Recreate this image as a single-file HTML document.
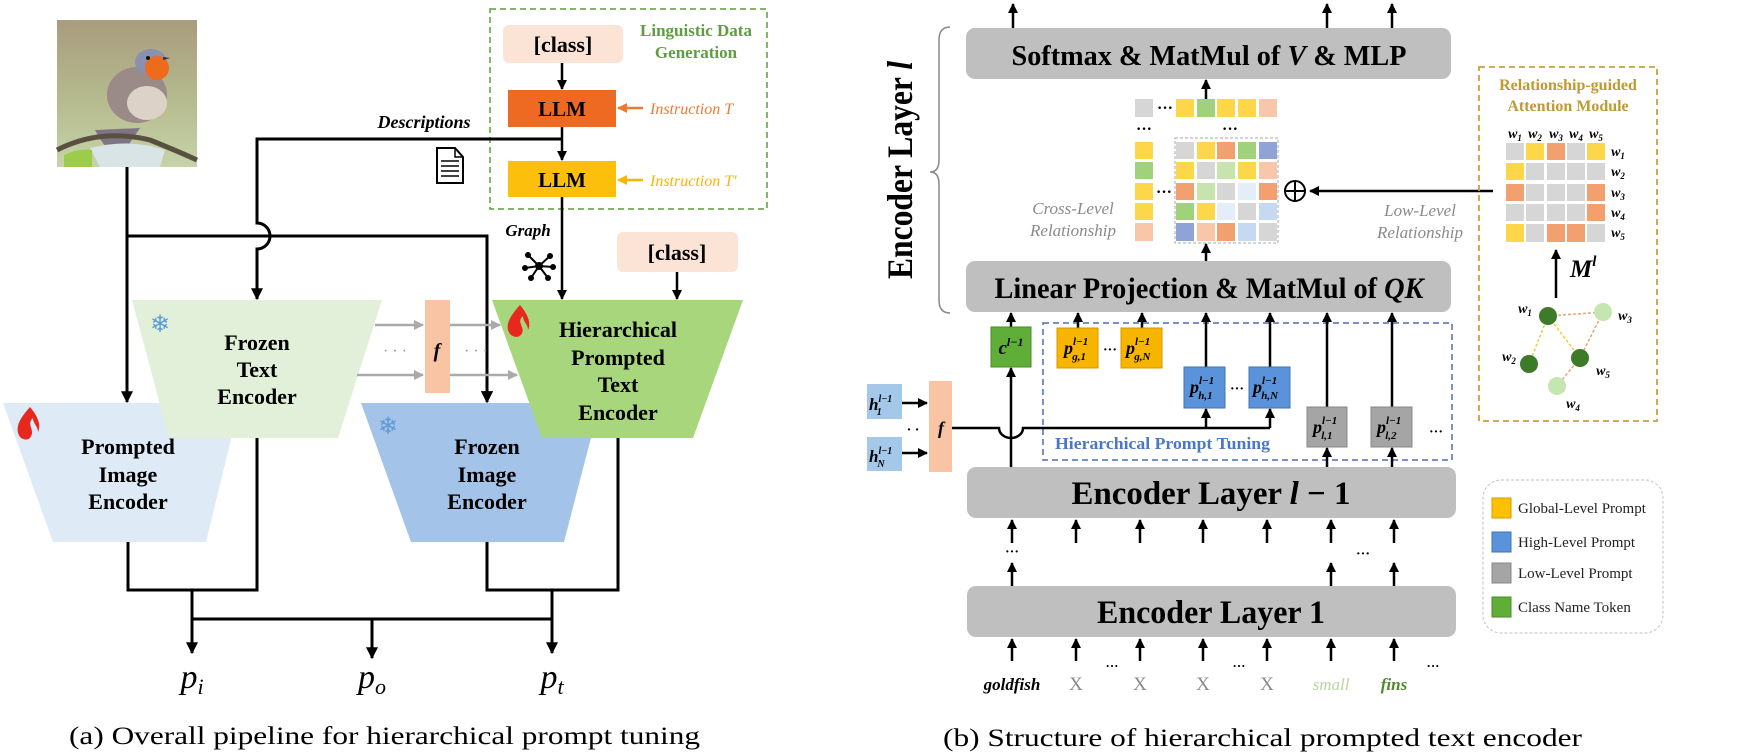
<!DOCTYPE html>
<html><head><meta charset="utf-8"><style>
html,body{margin:0;padding:0;background:#fff}
svg{display:block}
text{font-family:"Liberation Serif","DejaVu Serif",serif}
</style></head><body>
<svg width="1738" height="753" viewBox="0 0 1738 753" xmlns="http://www.w3.org/2000/svg">
<defs>
<marker id="ab" viewBox="0 0 10 10" refX="9" refY="5" markerWidth="4" markerHeight="4" orient="auto" markerUnits="strokeWidth"><path d="M0,0 L10,5 L0,10 z" fill="#000"/></marker>
<marker id="ag" viewBox="0 0 10 10" refX="9" refY="5" markerWidth="4" markerHeight="4" orient="auto" markerUnits="strokeWidth"><path d="M0,0 L10,5 L0,10 z" fill="#aaa"/></marker>
<marker id="ao" viewBox="0 0 10 10" refX="9" refY="5" markerWidth="4" markerHeight="4" orient="auto" markerUnits="strokeWidth"><path d="M0,0 L10,5 L0,10 z" fill="#ee7a30"/></marker>
<marker id="ay" viewBox="0 0 10 10" refX="9" refY="5" markerWidth="4" markerHeight="4" orient="auto" markerUnits="strokeWidth"><path d="M0,0 L10,5 L0,10 z" fill="#f8b600"/></marker>
<linearGradient id="bg" x1="0" y1="0" x2="0" y2="1"><stop offset="0" stop-color="#a89c7e"/><stop offset="0.5" stop-color="#b4b88c"/><stop offset="1" stop-color="#c6d3a8"/></linearGradient>
</defs>

<!-- ===== LEFT PANEL ===== -->
<!-- bird image -->
<rect x="57" y="20" width="140" height="147" fill="url(#bg)"/>
<path d="M95,130 Q110,160 125,150 L140,128 Z" fill="#7e7486"/>
<ellipse cx="137" cy="95" rx="30" ry="28" fill="#9a8a88"/>
<ellipse cx="147" cy="103" rx="20" ry="17" fill="#ddd2c8"/>
<ellipse cx="151" cy="62" rx="16" ry="13" fill="#8a90b0"/>
<ellipse cx="157" cy="68" rx="12" ry="12" fill="#ee6a1c"/>
<circle cx="148" cy="58" r="2" fill="#111"/>
<path d="M163,57 L170,58 L163,60 Z" fill="#333"/>
<path d="M57,150 Q100,128 150,140 Q175,150 197,160" stroke="#5a5040" stroke-width="5" fill="none"/>
<path d="M90,148 Q130,138 165,150 L160,167 L100,167 Z" fill="#d8e4e6"/>
<path d="M64,155 Q80,148 92,150 L92,167 L64,167 Z" fill="#9ccc4a"/>

<!-- Linguistic data generation dashed box -->
<rect x="490" y="9" width="277" height="200" fill="none" stroke="#5e9e3e" stroke-width="1.5" stroke-dasharray="6,4"/>
<rect x="503" y="25" width="120" height="38" rx="6" fill="#fbe3d6"/>
<text x="563" y="52" font-size="22" font-weight="bold" text-anchor="middle">[class]</text>
<text x="696" y="36" font-size="17" font-weight="bold" fill="#5e9e3e" text-anchor="middle">Linguistic Data</text>
<text x="696" y="58" font-size="17" font-weight="bold" fill="#5e9e3e" text-anchor="middle">Generation</text>
<line x1="562" y1="63" x2="562" y2="89" stroke="#000" stroke-width="2.5" marker-end="url(#ab)"/>
<rect x="508" y="90" width="108" height="37" fill="#ee6a22"/>
<text x="562" y="116" font-size="21" font-weight="bold" text-anchor="middle">LLM</text>
<line x1="643" y1="108" x2="618" y2="108" stroke="#ee7a30" stroke-width="2.5" marker-end="url(#ao)"/>
<text x="650" y="114" font-size="16" font-style="italic" fill="#ee7a30">Instruction T</text>
<rect x="508" y="161" width="108" height="36" fill="#fbbf0c"/>
<text x="562" y="187" font-size="21" font-weight="bold" text-anchor="middle">LLM</text>
<line x1="643" y1="180" x2="618" y2="180" stroke="#f8b600" stroke-width="2.5" marker-end="url(#ay)"/>
<text x="650" y="186" font-size="16" font-style="italic" fill="#f8b600">Instruction T'</text>
<line x1="562" y1="127" x2="562" y2="160" stroke="#000" stroke-width="2.5" marker-end="url(#ab)"/>
<!-- descriptions -->
<path d="M562,139 H257 V223 A13,13 0 0 1 257,249 V299" fill="none" stroke="#000" stroke-width="3" marker-end="url(#ab)"/>
<text x="424" y="128" font-size="18" font-weight="bold" font-style="italic" text-anchor="middle">Descriptions</text>
<!-- doc icon -->
<path d="M437,148 H455 L463,157 V183 H437 Z" fill="#fff" stroke="#000" stroke-width="2"/>
<path d="M455,148 V157 H463" fill="none" stroke="#000" stroke-width="1.5"/>
<g stroke="#000" stroke-width="1.5"><line x1="441" y1="161" x2="459" y2="161"/><line x1="441" y1="166" x2="459" y2="166"/><line x1="441" y1="171" x2="459" y2="171"/><line x1="441" y1="176" x2="459" y2="176"/></g>
<!-- graph -->
<line x1="562" y1="197" x2="562" y2="299" stroke="#000" stroke-width="2.5" marker-end="url(#ab)"/>
<text x="528" y="236" font-size="17" font-weight="bold" font-style="italic" text-anchor="middle">Graph</text>
<g stroke="#000" stroke-width="2"><line x1="539" y1="266" x2="528" y2="255"/><line x1="539" y1="266" x2="550" y2="256"/><line x1="539" y1="266" x2="525" y2="268"/><line x1="539" y1="266" x2="553" y2="267"/><line x1="539" y1="266" x2="531" y2="278"/><line x1="539" y1="266" x2="548" y2="278"/></g>
<g fill="#000"><circle cx="539" cy="266" r="4"/><circle cx="528" cy="255" r="3"/><circle cx="550" cy="256" r="3"/><circle cx="525" cy="268" r="3"/><circle cx="553" cy="267" r="3"/><circle cx="531" cy="278" r="3"/><circle cx="548" cy="278" r="3"/></g>
<!-- class 2 -->
<rect x="617" y="232" width="121" height="40" rx="6" fill="#fbe3d6"/>
<text x="677" y="260" font-size="22" font-weight="bold" text-anchor="middle">[class]</text>
<line x1="677" y1="272" x2="677" y2="299" stroke="#000" stroke-width="2.5" marker-end="url(#ab)"/>
<!-- bird lines -->
<line x1="127" y1="167" x2="127" y2="402" stroke="#000" stroke-width="3" marker-end="url(#ab)"/>
<path d="M127,236 H487 V402" fill="none" stroke="#000" stroke-width="3" marker-end="url(#ab)"/>

<!-- encoders -->
<polygon points="3,403 240,403 206,542 53,542" fill="#deebf7"/>
<polygon points="361,403 600,403 564,542 411,542" fill="#a4c3e8"/>
<polygon points="132,300 382,300 338,438 169,438" fill="#e2f0d9"/>
<polygon points="492,300 743,300 693,438 542,438" fill="#a7d67c"/>
<!-- redraw lines over Frozen image text encoders where visible -->
<line x1="487" y1="300" x2="487" y2="402" stroke="#000" stroke-width="3" marker-end="url(#ab)"/>
<text font-size="22" font-weight="bold" text-anchor="middle"><tspan x="257" y="350">Frozen</tspan><tspan x="257" y="377">Text</tspan><tspan x="257" y="404">Encoder</tspan></text>
<text font-size="22" font-weight="bold" text-anchor="middle"><tspan x="618" y="337">Hierarchical</tspan><tspan x="618" y="365">Prompted</tspan><tspan x="618" y="392">Text</tspan><tspan x="618" y="420">Encoder</tspan></text>
<text font-size="22" font-weight="bold" text-anchor="middle"><tspan x="128" y="454">Prompted</tspan><tspan x="128" y="482">Image</tspan><tspan x="128" y="509">Encoder</tspan></text>
<text font-size="22" font-weight="bold" text-anchor="middle"><tspan x="487" y="454">Frozen</tspan><tspan x="487" y="482">Image</tspan><tspan x="487" y="509">Encoder</tspan></text>
<!-- f box -->
<rect x="425" y="300" width="25" height="93" fill="#f8c4a4"/>
<text x="437" y="357" font-size="20" font-style="italic" font-weight="bold" text-anchor="middle">f</text>
<g stroke="#aaa" stroke-width="2.5"><line x1="375" y1="325" x2="423" y2="325" marker-end="url(#ag)"/><line x1="357" y1="375" x2="423" y2="375" marker-end="url(#ag)"/><line x1="450" y1="325" x2="500" y2="325" marker-end="url(#ag)"/><line x1="450" y1="375" x2="517" y2="375" marker-end="url(#ag)"/></g>
<text x="395" y="356" font-size="16" fill="#999" text-anchor="middle">· · ·</text>
<text x="476" y="356" font-size="16" fill="#999" text-anchor="middle">· · ·</text>
<!-- icons -->
<path d="M30,407 C20,418 14,428 20,437 C24,441 30,440 31,436 C35,430 26,424 33,418 C33,424 38,426 38,432 C42,424 36,414 30,407 Z" fill="#e8281e"/>
<path d="M520,305 C510,316 504,326 510,334 C514,338 520,338 522,333 C525,327 516,322 523,316 C523,322 528,324 528,330 C532,322 526,312 520,305 Z" fill="#e8281e"/>
<text x="160" y="332" font-size="24" fill="#5b9bd5" text-anchor="middle">❄</text>
<text x="388" y="434" font-size="24" fill="#5b9bd5" text-anchor="middle">❄</text>
<!-- bottom lines -->
<g fill="none" stroke="#000" stroke-width="3">
<path d="M128,542 V590 H257 V438"/>
<path d="M487,542 V590 H618 V438"/>
<path d="M192,590 V619 H552 V590"/>
</g>
<g stroke="#000" stroke-width="3">
<line x1="192" y1="619" x2="192" y2="653" marker-end="url(#ab)"/>
<line x1="372" y1="619" x2="372" y2="658" marker-end="url(#ab)"/>
<line x1="552" y1="619" x2="552" y2="653" marker-end="url(#ab)"/>
</g>
<text x="192" y="688" font-size="34" font-style="italic" text-anchor="middle">p<tspan font-size="22" dy="6">i</tspan></text>
<text x="372" y="688" font-size="34" font-style="italic" text-anchor="middle">p<tspan font-size="22" dy="6">o</tspan></text>
<text x="552" y="688" font-size="34" font-style="italic" text-anchor="middle">p<tspan font-size="22" dy="6">t</tspan></text>
<text x="69" y="744" font-size="25" textLength="631" lengthAdjust="spacingAndGlyphs">(a)  Overall pipeline for hierarchical prompt tuning</text>

<!-- ===== RIGHT PANEL ===== -->
<!-- top arrows -->
<g stroke="#000" stroke-width="2.5">
<line x1="1013" y1="28" x2="1013" y2="4" marker-end="url(#ab)"/>
<line x1="1327" y1="28" x2="1327" y2="4" marker-end="url(#ab)"/>
<line x1="1392" y1="28" x2="1392" y2="4" marker-end="url(#ab)"/>
</g>
<!-- brace -->
<path d="M950,27 Q939,27 939,40 V160 Q939,172 930,172 Q939,172 939,184 V300 Q939,313 950,313" fill="none" stroke="#888" stroke-width="1.5"/>
<text transform="translate(912,170) rotate(-90)" font-size="36" font-weight="bold" text-anchor="middle" textLength="218" lengthAdjust="spacingAndGlyphs">Encoder Layer <tspan font-style="italic">l</tspan></text>
<!-- softmax box -->
<rect x="966" y="28" width="485" height="51" rx="9" fill="#bfbfbf"/>
<text x="1209" y="65" font-size="29" font-weight="bold" text-anchor="middle" textLength="395" lengthAdjust="spacingAndGlyphs">Softmax &amp; MatMul of <tspan font-style="italic">V</tspan> &amp; MLP</text>
<line x1="1206" y1="100" x2="1206" y2="80" stroke="#000" stroke-width="2.5" marker-end="url(#ab)"/>
<!-- attention matrix -->
<g>
<rect x="1135" y="99" width="18" height="18" fill="#d6d6d6"/>
<rect x="1176" y="99" width="18" height="18" fill="#fdd64a"/>
<rect x="1197" y="99" width="18" height="18" fill="#9fd27a"/>
<rect x="1217" y="99" width="18" height="18" fill="#fdd64a"/>
<rect x="1238" y="99" width="18" height="18" fill="#fdd64a"/>
<rect x="1259" y="99" width="18" height="18" fill="#f8c6a8"/>
<rect x="1135" y="142" width="18" height="17" fill="#fdd64a"/>
<rect x="1135" y="162" width="18" height="17" fill="#9fd27a"/>
<rect x="1135" y="183" width="18" height="17" fill="#fdd64a"/>
<rect x="1135" y="203" width="18" height="17" fill="#fdd64a"/>
<rect x="1135" y="223" width="18" height="18" fill="#f8c6a8"/>
<rect x="1175" y="138" width="103" height="105" fill="none" stroke="#aaa" stroke-width="1" stroke-dasharray="3,2"/>
</g>
<g id="m">
<rect x="1176" y="142" width="18" height="17" fill="#d6d6d6"/><rect x="1197" y="142" width="18" height="17" fill="#fdd64a"/><rect x="1217" y="142" width="18" height="17" fill="#f2a070"/><rect x="1238" y="142" width="18" height="17" fill="#9fd27a"/><rect x="1259" y="142" width="18" height="17" fill="#8fa3d8"/>
<rect x="1176" y="162" width="18" height="17" fill="#fdd64a"/><rect x="1197" y="162" width="18" height="17" fill="#d6d6d6"/><rect x="1217" y="162" width="18" height="17" fill="#c7e3ae"/><rect x="1238" y="162" width="18" height="17" fill="#fdd64a"/><rect x="1259" y="162" width="18" height="17" fill="#f8c6a8"/>
<rect x="1176" y="183" width="18" height="17" fill="#f2a070"/><rect x="1197" y="183" width="18" height="17" fill="#c7e3ae"/><rect x="1217" y="183" width="18" height="17" fill="#d6d6d6"/><rect x="1238" y="183" width="18" height="17" fill="#e3eef9"/><rect x="1259" y="183" width="18" height="17" fill="#f2a070"/>
<rect x="1176" y="203" width="18" height="17" fill="#9fd27a"/><rect x="1197" y="203" width="18" height="17" fill="#fdd64a"/><rect x="1217" y="203" width="18" height="17" fill="#e3eef9"/><rect x="1238" y="203" width="18" height="17" fill="#d6d6d6"/><rect x="1259" y="203" width="18" height="17" fill="#c5daf0"/>
<rect x="1176" y="223" width="18" height="18" fill="#8fa3d8"/><rect x="1197" y="223" width="18" height="18" fill="#f8c6a8"/><rect x="1217" y="223" width="18" height="18" fill="#f2a070"/><rect x="1238" y="223" width="18" height="18" fill="#c5daf0"/><rect x="1259" y="223" width="18" height="18" fill="#d6d6d6"/>
</g>
<text x="1165" y="113" font-size="16" font-weight="bold" text-anchor="middle">···</text>
<text x="1144" y="134" font-size="16" font-weight="bold" text-anchor="middle">···</text>
<text x="1230" y="134" font-size="16" font-weight="bold" text-anchor="middle">···</text>
<text x="1164" y="197" font-size="16" font-weight="bold" text-anchor="middle">···</text>
<!-- oplus -->
<circle cx="1295" cy="191" r="10" fill="none" stroke="#000" stroke-width="2"/>
<line x1="1285" y1="191" x2="1305" y2="191" stroke="#000" stroke-width="2"/>
<line x1="1295" y1="181" x2="1295" y2="201" stroke="#000" stroke-width="2"/>
<line x1="1493" y1="191" x2="1310" y2="191" stroke="#000" stroke-width="2.5" marker-end="url(#ab)"/>
<text font-size="17" font-style="italic" fill="#8a8a8a" text-anchor="middle"><tspan x="1073" y="214">Cross-Level</tspan><tspan x="1073" y="236">Relationship</tspan></text>
<text font-size="17" font-style="italic" fill="#8a8a8a" text-anchor="middle"><tspan x="1420" y="216">Low-Level</tspan><tspan x="1420" y="238">Relationship</tspan></text>
<line x1="1206" y1="261" x2="1206" y2="244" stroke="#000" stroke-width="2.5" marker-end="url(#ab)"/>
<!-- Linear box -->
<rect x="966" y="261" width="485" height="51" rx="9" fill="#bfbfbf"/>
<text x="1209" y="298" font-size="30" font-weight="bold" text-anchor="middle" textLength="429" lengthAdjust="spacingAndGlyphs">Linear Projection &amp; MatMul of <tspan font-style="italic">QK</tspan></text>

<!-- hierarchical prompt tuning box -->
<rect x="1043" y="323" width="409" height="137" fill="none" stroke="#4a6fb5" stroke-width="1.5" stroke-dasharray="6,4"/>
<text x="1055" y="449" font-size="17" font-weight="bold" fill="#4a78c4" textLength="215" lengthAdjust="spacingAndGlyphs">Hierarchical Prompt Tuning</text>

<!-- arrows into linear box -->
<g stroke="#000" stroke-width="2.5">
<line x1="1011" y1="327" x2="1011" y2="313" marker-end="url(#ab)"/>
<line x1="1078" y1="328" x2="1078" y2="313" marker-end="url(#ab)"/>
<line x1="1142" y1="328" x2="1142" y2="313" marker-end="url(#ab)"/>
<line x1="1206" y1="367" x2="1206" y2="313" marker-end="url(#ab)"/>
<line x1="1270" y1="367" x2="1270" y2="313" marker-end="url(#ab)"/>
<line x1="1327" y1="407" x2="1327" y2="313" marker-end="url(#ab)"/>
<line x1="1392" y1="407" x2="1392" y2="313" marker-end="url(#ab)"/>
</g>
<!-- c box -->
<rect x="991" y="327" width="40" height="40" fill="#5fae37" stroke="#4a8a2a" stroke-width="1"/>
<text x="1011" y="354" font-size="19" font-weight="bold" font-style="italic" text-anchor="middle">c<tspan font-size="12" dy="-8">l−1</tspan></text>
<!-- pg boxes -->
<rect x="1057" y="328" width="41" height="40" fill="#f7b500" stroke="#d59a00"/>
<rect x="1121" y="328" width="41" height="40" fill="#f7b500" stroke="#d59a00"/>
<text x="1064" y="354" font-size="18" font-weight="bold" font-style="italic">p<tspan font-size="11" dy="-9">l−1</tspan><tspan font-size="11" dx="-16" dy="15">g,1</tspan></text>
<text x="1126" y="354" font-size="18" font-weight="bold" font-style="italic">p<tspan font-size="11" dy="-9">l−1</tspan><tspan font-size="11" dx="-16" dy="15">g,N</tspan></text>
<text x="1110" y="354" font-size="14" font-weight="bold" text-anchor="middle">···</text>
<!-- ph boxes -->
<rect x="1184" y="367" width="41" height="41" fill="#5b93da" stroke="#3f73b8"/>
<rect x="1249" y="367" width="41" height="41" fill="#5b93da" stroke="#3f73b8"/>
<text x="1190" y="393" font-size="18" font-weight="bold" font-style="italic">p<tspan font-size="11" dy="-9">l−1</tspan><tspan font-size="11" dx="-16" dy="15">h,1</tspan></text>
<text x="1253" y="393" font-size="18" font-weight="bold" font-style="italic">p<tspan font-size="11" dy="-9">l−1</tspan><tspan font-size="11" dx="-16" dy="15">h,N</tspan></text>
<text x="1237" y="393" font-size="14" font-weight="bold" text-anchor="middle">···</text>
<!-- pl boxes -->
<rect x="1307" y="407" width="40" height="40" fill="#a5a5a5" stroke="#888"/>
<rect x="1371" y="407" width="41" height="40" fill="#a5a5a5" stroke="#888"/>
<text x="1313" y="433" font-size="18" font-weight="bold" font-style="italic">p<tspan font-size="11" dy="-9">l−1</tspan><tspan font-size="11" dx="-16" dy="15">l,1</tspan></text>
<text x="1377" y="433" font-size="18" font-weight="bold" font-style="italic">p<tspan font-size="11" dy="-9">l−1</tspan><tspan font-size="11" dx="-16" dy="15">l,2</tspan></text>
<text x="1436" y="436" font-size="14" font-weight="bold" text-anchor="middle">···</text>
<!-- h boxes & f -->
<rect x="867" y="384" width="35" height="35" fill="#a3c8ea"/>
<rect x="867" y="437" width="35" height="34" fill="#a3c8ea"/>
<text x="869" y="410" font-size="17" font-weight="bold" font-style="italic">h<tspan font-size="10" dy="-8">l−1</tspan><tspan font-size="10" dx="-15" dy="13">1</tspan></text>
<text x="869" y="462" font-size="17" font-weight="bold" font-style="italic">h<tspan font-size="10" dy="-8">l−1</tspan><tspan font-size="10" dx="-15" dy="13">N</tspan></text>
<rect x="929" y="381" width="23" height="91" fill="#f8c4a4"/>
<text x="941" y="434" font-size="18" font-weight="bold" font-style="italic" text-anchor="middle">f</text>
<g stroke="#000" stroke-width="2.5">
<line x1="902" y1="403" x2="927" y2="403" marker-end="url(#ab)"/>
<line x1="902" y1="453" x2="927" y2="453" marker-end="url(#ab)"/>
</g>
<text x="913" y="434" font-size="14" font-weight="bold" text-anchor="middle">· ·</text>
<!-- f output line with hop -->
<path d="M952,428 H999 A12,10 0 0 0 1023,428 H1270" fill="none" stroke="#000" stroke-width="2.5"/>
<g stroke="#000" stroke-width="2.5">
<line x1="1206" y1="428" x2="1206" y2="409" marker-end="url(#ab)"/>
<line x1="1270" y1="428" x2="1270" y2="409" marker-end="url(#ab)"/>
<line x1="1011" y1="467" x2="1011" y2="368" marker-end="url(#ab)"/>
<line x1="1327" y1="467" x2="1327" y2="448" marker-end="url(#ab)"/>
<line x1="1392" y1="467" x2="1392" y2="448" marker-end="url(#ab)"/>
</g>
<!-- encoder l-1 -->
<rect x="967" y="467" width="489" height="51" rx="9" fill="#bfbfbf"/>
<text x="1211" y="504" font-size="33" font-weight="bold" text-anchor="middle" textLength="279" lengthAdjust="spacingAndGlyphs">Encoder Layer <tspan font-style="italic">l</tspan> − 1</text>
<g stroke="#000" stroke-width="2.5">
<line x1="1012" y1="543" x2="1012" y2="520" marker-end="url(#ab)"/>
<line x1="1076" y1="543" x2="1076" y2="520" marker-end="url(#ab)"/>
<line x1="1140" y1="543" x2="1140" y2="520" marker-end="url(#ab)"/>
<line x1="1203" y1="543" x2="1203" y2="520" marker-end="url(#ab)"/>
<line x1="1267" y1="543" x2="1267" y2="520" marker-end="url(#ab)"/>
<line x1="1331" y1="543" x2="1331" y2="520" marker-end="url(#ab)"/>
<line x1="1394" y1="543" x2="1394" y2="520" marker-end="url(#ab)"/>
<line x1="1012" y1="586" x2="1012" y2="563" marker-end="url(#ab)"/>
<line x1="1331" y1="586" x2="1331" y2="563" marker-end="url(#ab)"/>
<line x1="1394" y1="586" x2="1394" y2="563" marker-end="url(#ab)"/>
</g>
<text x="1012" y="556" font-size="14" font-weight="bold" text-anchor="middle">···</text>
<text x="1363" y="558" font-size="14" font-weight="bold" text-anchor="middle">···</text>
<!-- encoder 1 -->
<rect x="967" y="586" width="489" height="51" rx="9" fill="#bfbfbf"/>
<text x="1211" y="623" font-size="33" font-weight="bold" text-anchor="middle" textLength="228" lengthAdjust="spacingAndGlyphs">Encoder Layer 1</text>
<g stroke="#000" stroke-width="2.5">
<line x1="1012" y1="661" x2="1012" y2="639" marker-end="url(#ab)"/>
<line x1="1076" y1="661" x2="1076" y2="639" marker-end="url(#ab)"/>
<line x1="1140" y1="661" x2="1140" y2="639" marker-end="url(#ab)"/>
<line x1="1203" y1="661" x2="1203" y2="639" marker-end="url(#ab)"/>
<line x1="1267" y1="661" x2="1267" y2="639" marker-end="url(#ab)"/>
<line x1="1331" y1="661" x2="1331" y2="639" marker-end="url(#ab)"/>
<line x1="1394" y1="661" x2="1394" y2="639" marker-end="url(#ab)"/>
</g>
<text x="1012" y="690" font-size="17" font-weight="bold" font-style="italic" text-anchor="middle">goldfish</text>
<g font-size="19" fill="#8a8a8a" text-anchor="middle"><text x="1076" y="690">X</text><text x="1140" y="690">X</text><text x="1203" y="690">X</text><text x="1267" y="690">X</text></g>
<text x="1331" y="690" font-size="17" font-style="italic" fill="#b5d89a" text-anchor="middle">small</text>
<text x="1394" y="690" font-size="17" font-weight="bold" font-style="italic" fill="#4e8a2a" text-anchor="middle">fins</text>
<text x="1112" y="670" font-size="13" font-weight="bold" text-anchor="middle">···</text>
<text x="1239" y="670" font-size="13" font-weight="bold" text-anchor="middle">···</text>
<text x="1433" y="670" font-size="13" font-weight="bold" text-anchor="middle">···</text>

<!-- legend -->
<rect x="1483" y="480" width="180" height="153" rx="18" fill="none" stroke="#ccc" stroke-width="1.2" stroke-dasharray="3,2"/>
<rect x="1492" y="498" width="19" height="20" fill="#ffc000" stroke="#d59a00"/>
<rect x="1492" y="532" width="19" height="20" fill="#5b93da" stroke="#3f73b8"/>
<rect x="1492" y="563" width="19" height="20" fill="#a5a5a5" stroke="#888"/>
<rect x="1492" y="597" width="19" height="20" fill="#5fae37" stroke="#4a8a2a"/>
<g font-size="15" fill="#222"><text x="1518" y="513">Global-Level Prompt</text><text x="1518" y="547">High-Level Prompt</text><text x="1518" y="578">Low-Level Prompt</text><text x="1518" y="612">Class Name Token</text></g>

<!-- relationship module -->
<rect x="1479" y="67" width="178" height="354" fill="none" stroke="#c9a040" stroke-width="1.8" stroke-dasharray="6,4"/>
<text x="1568" y="90" font-size="16" font-weight="bold" fill="#c09a30" text-anchor="middle">Relationship-guided</text>
<text x="1568" y="111" font-size="16" font-weight="bold" fill="#c09a30" text-anchor="middle">Attention Module</text>
<g font-size="14" font-weight="bold" font-style="italic" text-anchor="middle">
<text x="1515" y="138">w<tspan font-size="9" dy="3">1</tspan></text><text x="1535" y="138">w<tspan font-size="9" dy="3">2</tspan></text><text x="1556" y="138">w<tspan font-size="9" dy="3">3</tspan></text><text x="1576" y="138">w<tspan font-size="9" dy="3">4</tspan></text><text x="1596" y="138">w<tspan font-size="9" dy="3">5</tspan></text>
<text x="1618" y="156">w<tspan font-size="9" dy="3">1</tspan></text><text x="1618" y="176">w<tspan font-size="9" dy="3">2</tspan></text><text x="1618" y="197">w<tspan font-size="9" dy="3">3</tspan></text><text x="1618" y="217">w<tspan font-size="9" dy="3">4</tspan></text><text x="1618" y="237">w<tspan font-size="9" dy="3">5</tspan></text>
</g>
<g>
<rect x="1506" y="143" width="18" height="17" fill="#d6d6d6"/><rect x="1526" y="143" width="18" height="17" fill="#fdd64a"/><rect x="1547" y="143" width="18" height="17" fill="#f2a070"/><rect x="1567" y="143" width="18" height="17" fill="#d6d6d6"/><rect x="1587" y="143" width="18" height="17" fill="#fdd64a"/>
<rect x="1506" y="163" width="18" height="17" fill="#fdd64a"/><rect x="1526" y="163" width="18" height="17" fill="#d6d6d6"/><rect x="1547" y="163" width="18" height="17" fill="#d6d6d6"/><rect x="1567" y="163" width="18" height="17" fill="#d6d6d6"/><rect x="1587" y="163" width="18" height="17" fill="#d6d6d6"/>
<rect x="1506" y="184" width="18" height="17" fill="#f2a070"/><rect x="1526" y="184" width="18" height="17" fill="#d6d6d6"/><rect x="1547" y="184" width="18" height="17" fill="#d6d6d6"/><rect x="1567" y="184" width="18" height="17" fill="#d6d6d6"/><rect x="1587" y="184" width="18" height="17" fill="#f2a070"/>
<rect x="1506" y="204" width="18" height="17" fill="#d6d6d6"/><rect x="1526" y="204" width="18" height="17" fill="#d6d6d6"/><rect x="1547" y="204" width="18" height="17" fill="#d6d6d6"/><rect x="1567" y="204" width="18" height="17" fill="#d6d6d6"/><rect x="1587" y="204" width="18" height="17" fill="#f2a070"/>
<rect x="1506" y="224" width="18" height="18" fill="#fdd64a"/><rect x="1526" y="224" width="18" height="18" fill="#d6d6d6"/><rect x="1547" y="224" width="18" height="18" fill="#f2a070"/><rect x="1567" y="224" width="18" height="18" fill="#f2a070"/><rect x="1587" y="224" width="18" height="18" fill="#d6d6d6"/>
</g>
<line x1="1556" y1="298" x2="1556" y2="250" stroke="#000" stroke-width="2.5" marker-end="url(#ab)"/>
<text x="1570" y="277" font-size="25" font-weight="bold" font-style="italic">M<tspan font-size="15" dy="-11">l</tspan></text>
<g fill="none" stroke-width="1.5" stroke-dasharray="3,2">
<line x1="1548" y1="316" x2="1603" y2="312" stroke="#f0a070"/>
<line x1="1548" y1="316" x2="1529" y2="364" stroke="#f5c842"/>
<line x1="1548" y1="316" x2="1580" y2="358" stroke="#f5c842"/>
<line x1="1603" y1="312" x2="1580" y2="358" stroke="#f0a070"/>
<line x1="1580" y1="358" x2="1557" y2="386" stroke="#f0a070"/>
</g>
<circle cx="1548" cy="316" r="9" fill="#3d7a2a"/>
<circle cx="1603" cy="312" r="9" fill="#c5e6b0"/>
<circle cx="1529" cy="364" r="9" fill="#3d7a2a"/>
<circle cx="1580" cy="358" r="9" fill="#3d7a2a"/>
<circle cx="1557" cy="386" r="9" fill="#c5e6b0"/>
<g font-size="14" font-weight="bold" font-style="italic" text-anchor="middle">
<text x="1525" y="313">w<tspan font-size="9" dy="3">1</tspan></text>
<text x="1625" y="320">w<tspan font-size="9" dy="3">3</tspan></text>
<text x="1509" y="361">w<tspan font-size="9" dy="3">2</tspan></text>
<text x="1603" y="375">w<tspan font-size="9" dy="3">5</tspan></text>
<text x="1573" y="408">w<tspan font-size="9" dy="3">4</tspan></text>
</g>

<text x="943" y="746" font-size="25" textLength="639" lengthAdjust="spacingAndGlyphs">(b)  Structure of hierarchical prompted text encoder</text>
</svg>
</body></html>
